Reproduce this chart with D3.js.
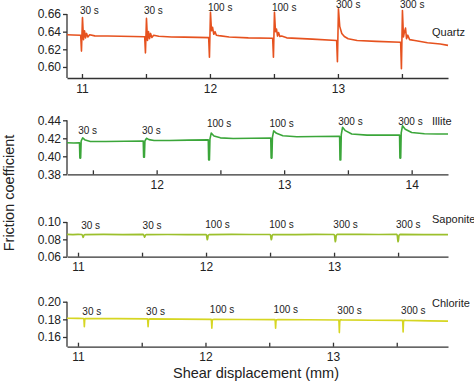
<!DOCTYPE html>
<html>
<head>
<meta charset="utf-8">
<script src="https://cdnjs.cloudflare.com/ajax/libs/d3/7.8.5/d3.min.js"></script>
<style>
  body { margin: 0; background: #fff; }
  svg text { font-family: "Liberation Sans", Arial, sans-serif; fill: #222; }
  .axis path, .axis line { stroke: #333; stroke-width: 1.3; }
  .axis text { font-size: 12px; }
</style>
</head>
<body>
<div class="chart"></div>
<script>
// hold durations, same order in every panel
const holdLabels = ["30 s", "30 s", "100 s", "100 s", "300 s", "300 s"];

// quartz
const quartzHolds = [11.0, 11.5, 12.0, 12.5, 13.0, 13.5];
const quartzTicks = [0.60, 0.62, 0.64, 0.66];
const quartzTrace = [
  [10.883, 0.6365], [10.93, 0.6362], [10.99, 0.6360],
  [10.996, 0.618], [11.004, 0.656], [11.012, 0.631], [11.020, 0.641], [11.028, 0.633], [11.036, 0.638], [11.046, 0.634],
  [11.06, 0.6365], [11.1, 0.6352], [11.2, 0.6350], [11.3, 0.6348], [11.4, 0.6345], [11.49, 0.6342],
  [11.496, 0.616], [11.504, 0.655], [11.512, 0.630], [11.52, 0.640], [11.528, 0.632], [11.536, 0.638], [11.546, 0.6335],
  [11.56, 0.6360], [11.6, 0.6348], [11.7, 0.6340], [11.8, 0.6338], [11.9, 0.6335], [11.99, 0.6332],
  [11.996, 0.611], [12.004, 0.662], [12.012, 0.641], [12.02, 0.645], [12.03, 0.637], [12.04, 0.640], [12.05, 0.636],
  [12.07, 0.6355], [12.15, 0.6340], [12.3, 0.6330], [12.49, 0.6325],
  [12.496, 0.611], [12.504, 0.662], [12.512, 0.640], [12.52, 0.643], [12.528, 0.635], [12.536, 0.639], [12.546, 0.6345],
  [12.56, 0.6350], [12.6, 0.6330], [12.8, 0.6315], [12.99, 0.6300],
  [12.996, 0.606], [13.004, 0.666], [13.014, 0.646], [13.03, 0.638], [13.05, 0.6345], [13.08, 0.6320],
  [13.15, 0.6300], [13.3, 0.6290], [13.49, 0.6280],
  [13.496, 0.598], [13.504, 0.664], [13.512, 0.634], [13.52, 0.640], [13.528, 0.644], [13.536, 0.632], [13.546, 0.636],
  [13.56, 0.6310], [13.6, 0.6300], [13.7, 0.6275], [13.8, 0.6260], [13.86, 0.6245]
];

// illite
const illiteHolds = [11.40, 11.90, 12.41, 12.90, 13.44, 13.91];
const illiteTicks = [0.38, 0.40, 0.42, 0.44];
const illiteTrace = [
  [11.297, 0.4150], [11.35, 0.4148], [11.395, 0.4150],
  [11.398, 0.398], [11.404, 0.398], [11.408, 0.417], [11.42, 0.4205], [11.44, 0.4180], [11.48, 0.4165],
  [11.6, 0.4165], [11.75, 0.4168], [11.895, 0.4170],
  [11.898, 0.399], [11.904, 0.399], [11.908, 0.417], [11.92, 0.4200], [11.94, 0.4185], [11.98, 0.4175],
  [12.1, 0.4175], [12.25, 0.4180], [12.405, 0.4182],
  [12.408, 0.396], [12.414, 0.396], [12.418, 0.419], [12.428, 0.4258], [12.45, 0.4225], [12.5, 0.4205],
  [12.6, 0.4198], [12.75, 0.4200], [12.895, 0.4202],
  [12.898, 0.398], [12.904, 0.398], [12.908, 0.421], [12.918, 0.4282], [12.94, 0.4255], [12.99, 0.4228],
  [13.1, 0.4218], [13.25, 0.4220], [13.435, 0.4222],
  [13.438, 0.396], [13.444, 0.396], [13.448, 0.424], [13.458, 0.4322], [13.48, 0.4285], [13.53, 0.4248],
  [13.65, 0.4235], [13.8, 0.4235], [13.905, 0.4237],
  [13.908, 0.398], [13.914, 0.398], [13.918, 0.426], [13.928, 0.4338], [13.95, 0.4300], [14.0, 0.4265],
  [14.1, 0.4250], [14.2, 0.4248], [14.285, 0.4248]
];

// saponite
const saponiteHolds = [11.04, 11.52, 12.01, 12.51, 13.01, 13.50];
const saponiteTicks = [0.06, 0.08, 0.10];
const saponiteTrace = [
  [10.914, 0.0857], [10.96, 0.0855], [11.0, 0.0857], [11.03, 0.0856],
  [11.034, 0.0848], [11.038, 0.0830], [11.040, 0.0823], [11.043, 0.0832], [11.047, 0.0850], [11.055, 0.0855],
  [11.2, 0.0857], [11.35, 0.0855], [11.51, 0.0857],
  [11.514, 0.0848], [11.518, 0.0832], [11.520, 0.0825], [11.523, 0.0834], [11.527, 0.0851], [11.535, 0.0855],
  [11.7, 0.0856], [11.85, 0.0854], [12.0, 0.0856],
  [12.004, 0.0845], [12.008, 0.0805], [12.010, 0.0796], [12.013, 0.0808], [12.017, 0.0848], [12.025, 0.0855],
  [12.2, 0.0857], [12.35, 0.0856], [12.50, 0.0856],
  [12.504, 0.0845], [12.508, 0.0805], [12.510, 0.0796], [12.513, 0.0808], [12.517, 0.0848], [12.525, 0.0856],
  [12.7, 0.0855], [12.85, 0.0857], [13.0, 0.0856],
  [13.004, 0.0843], [13.008, 0.0785], [13.010, 0.0773], [13.013, 0.0788], [13.017, 0.0846], [13.025, 0.0857],
  [13.2, 0.0857], [13.35, 0.0856], [13.49, 0.0857],
  [13.494, 0.0843], [13.498, 0.0785], [13.500, 0.0773], [13.503, 0.0788], [13.507, 0.0846], [13.515, 0.0857],
  [13.7, 0.0855], [13.89, 0.0854]
];

// chlorite
const chloriteHolds = [11.05, 11.55, 12.05, 12.55, 13.05, 13.55];
const chloriteTicks = [0.16, 0.18, 0.20];
const chloriteTrace = [
  [10.914, 0.1812], [11.0, 0.1811], [11.045, 0.1810],
  [11.047, 0.1790], [11.050, 0.1717], [11.053, 0.1790], [11.056, 0.1808], [11.07, 0.1810],
  [11.3, 0.1808], [11.545, 0.1805],
  [11.547, 0.1785], [11.550, 0.1717], [11.553, 0.1785], [11.556, 0.1803], [11.57, 0.1805],
  [11.8, 0.1803], [12.045, 0.1800],
  [12.047, 0.1780], [12.050, 0.1699], [12.053, 0.1780], [12.056, 0.1799], [12.07, 0.1800],
  [12.3, 0.1799], [12.545, 0.1797],
  [12.547, 0.1778], [12.550, 0.1699], [12.553, 0.1778], [12.556, 0.1796], [12.57, 0.1797],
  [12.8, 0.1795], [13.045, 0.1792],
  [13.047, 0.1770], [13.050, 0.1650], [13.053, 0.1770], [13.056, 0.1795], [13.07, 0.1794],
  [13.3, 0.1790], [13.545, 0.1788],
  [13.547, 0.1768], [13.550, 0.1658], [13.553, 0.1768], [13.556, 0.1790], [13.57, 0.1788],
  [13.75, 0.1783], [13.902, 0.1780]
];

const xTicksA = [11, 11.5, 12, 12.5, 13, 13.5];
const xTicksB = [11.5, 12, 12.5, 13, 13.5, 14];

var width = 474, height = 387;
var left = 67, right = 448;

// one entry per panel: pixel layout + which arrays to use
var panels = [
  { name: "Quartz", color: "#e6521f", trace: quartzTrace, holds: quartzHolds, yTicks: quartzTicks, xTicks: xTicksA,
    xDomain: [10.883, 13.86], yDomain: [0.5875, 0.66], top: 14, bottom: 78,
    labelY: [14.3, 14.3, 10.5, 10.5, 8.2, 8.2], nameY: 36.3 },
  { name: "Illite", color: "#3ba63a", trace: illiteTrace, holds: illiteHolds, yTicks: illiteTicks, xTicks: xTicksB,
    xDomain: [11.297, 14.285], yDomain: [0.38, 0.44], top: 120.3, bottom: 174.3,
    labelY: [133.6, 133.6, 127.3, 127.3, 124.6, 124.6], nameY: 125 },
  { name: "Saponite", color: "#9cc02c", trace: saponiteTrace, holds: saponiteHolds, yTicks: saponiteTicks, xTicks: xTicksA,
    xDomain: [10.914, 13.89], yDomain: [0.06, 0.10], top: 222, bottom: 256.7,
    labelY: [228.6, 228.6, 227.6, 227.6, 228.3, 228.3], nameY: 223 },
  { name: "Chlorite", color: "#d6d622", trace: chloriteTrace, holds: chloriteHolds, yTicks: chloriteTicks, xTicks: xTicksA,
    xDomain: [10.914, 13.902], yDomain: [0.149, 0.20], top: 301.7, bottom: 346.7,
    labelY: [314.6, 314.6, 312.6, 312.6, 314.2, 314.2], nameY: 307.3 }
];

var svg = d3.select("div.chart").append("svg")
    .attr("width", width)
    .attr("height", height);

panels.forEach(function(p) {
  var x = d3.scaleLinear().domain(p.xDomain).range([left, right]);
  var y = d3.scaleLinear().domain(p.yDomain).range([p.bottom, p.top]);

  var g = svg.append("g").attr("class", "panel");

  // y axis only goes from the top tick down to the x axis
  var yAxis = d3.axisLeft(y)
      .tickValues(p.yTicks)
      .tickFormat(d3.format(".2f"))
      .tickSizeInner(4)
      .tickSizeOuter(0)
      .tickPadding(2);
  g.append("g")
      .attr("class", "y axis")
      .attr("transform", "translate(" + left + ",0)")
      .call(yAxis)
    .select(".domain")
      .attr("d", "M0," + y(p.yTicks[p.yTicks.length - 1]) + "V" + p.bottom);

  var xAxis = d3.axisBottom(x)
      .tickValues(p.xTicks)
      .tickFormat((d) => Number.isInteger(d) ? d : "")
      .tickSizeInner(-4)
      .tickSizeOuter(0)
      .tickPadding(6);
  g.append("g")
      .attr("class", "x axis")
      .attr("transform", "translate(0," + p.bottom + ")")
      .call(xAxis);

  var line = d3.line()
      .x((d) => x(d[0]))
      .y((d) => y(d[1]));

  g.append("path")
      .datum(p.trace)
      .attr("fill", "none")
      .attr("stroke", p.color)
      .attr("stroke-width", 1.6)
      .attr("stroke-linejoin", "round")
      .attr("d", line);

  g.selectAll(".hold")
      .data(p.holds)
    .enter().append("text")
      .attr("class", "hold")
      .attr("x", (d) => x(d) - 2)
      .attr("y", (d, i) => p.labelY[i])
      .style("font-size", "10px")
      .text((d, i) => holdLabels[i]);

  g.append("text")
      .attr("x", 432)
      .attr("y", p.nameY)
      .style("font-size", "11px")
      .text(p.name);
});

svg.append("text")
    .attr("x", 256)
    .attr("y", 378)
    .attr("text-anchor", "middle")
    .style("font-size", "14.5px")
    .text("Shear displacement (mm)");

svg.append("text")
    .attr("transform", "translate(14,193) rotate(-90)")
    .attr("text-anchor", "middle")
    .style("font-size", "14.5px")
    .text("Friction coefficient");
</script>
</body>
</html>
